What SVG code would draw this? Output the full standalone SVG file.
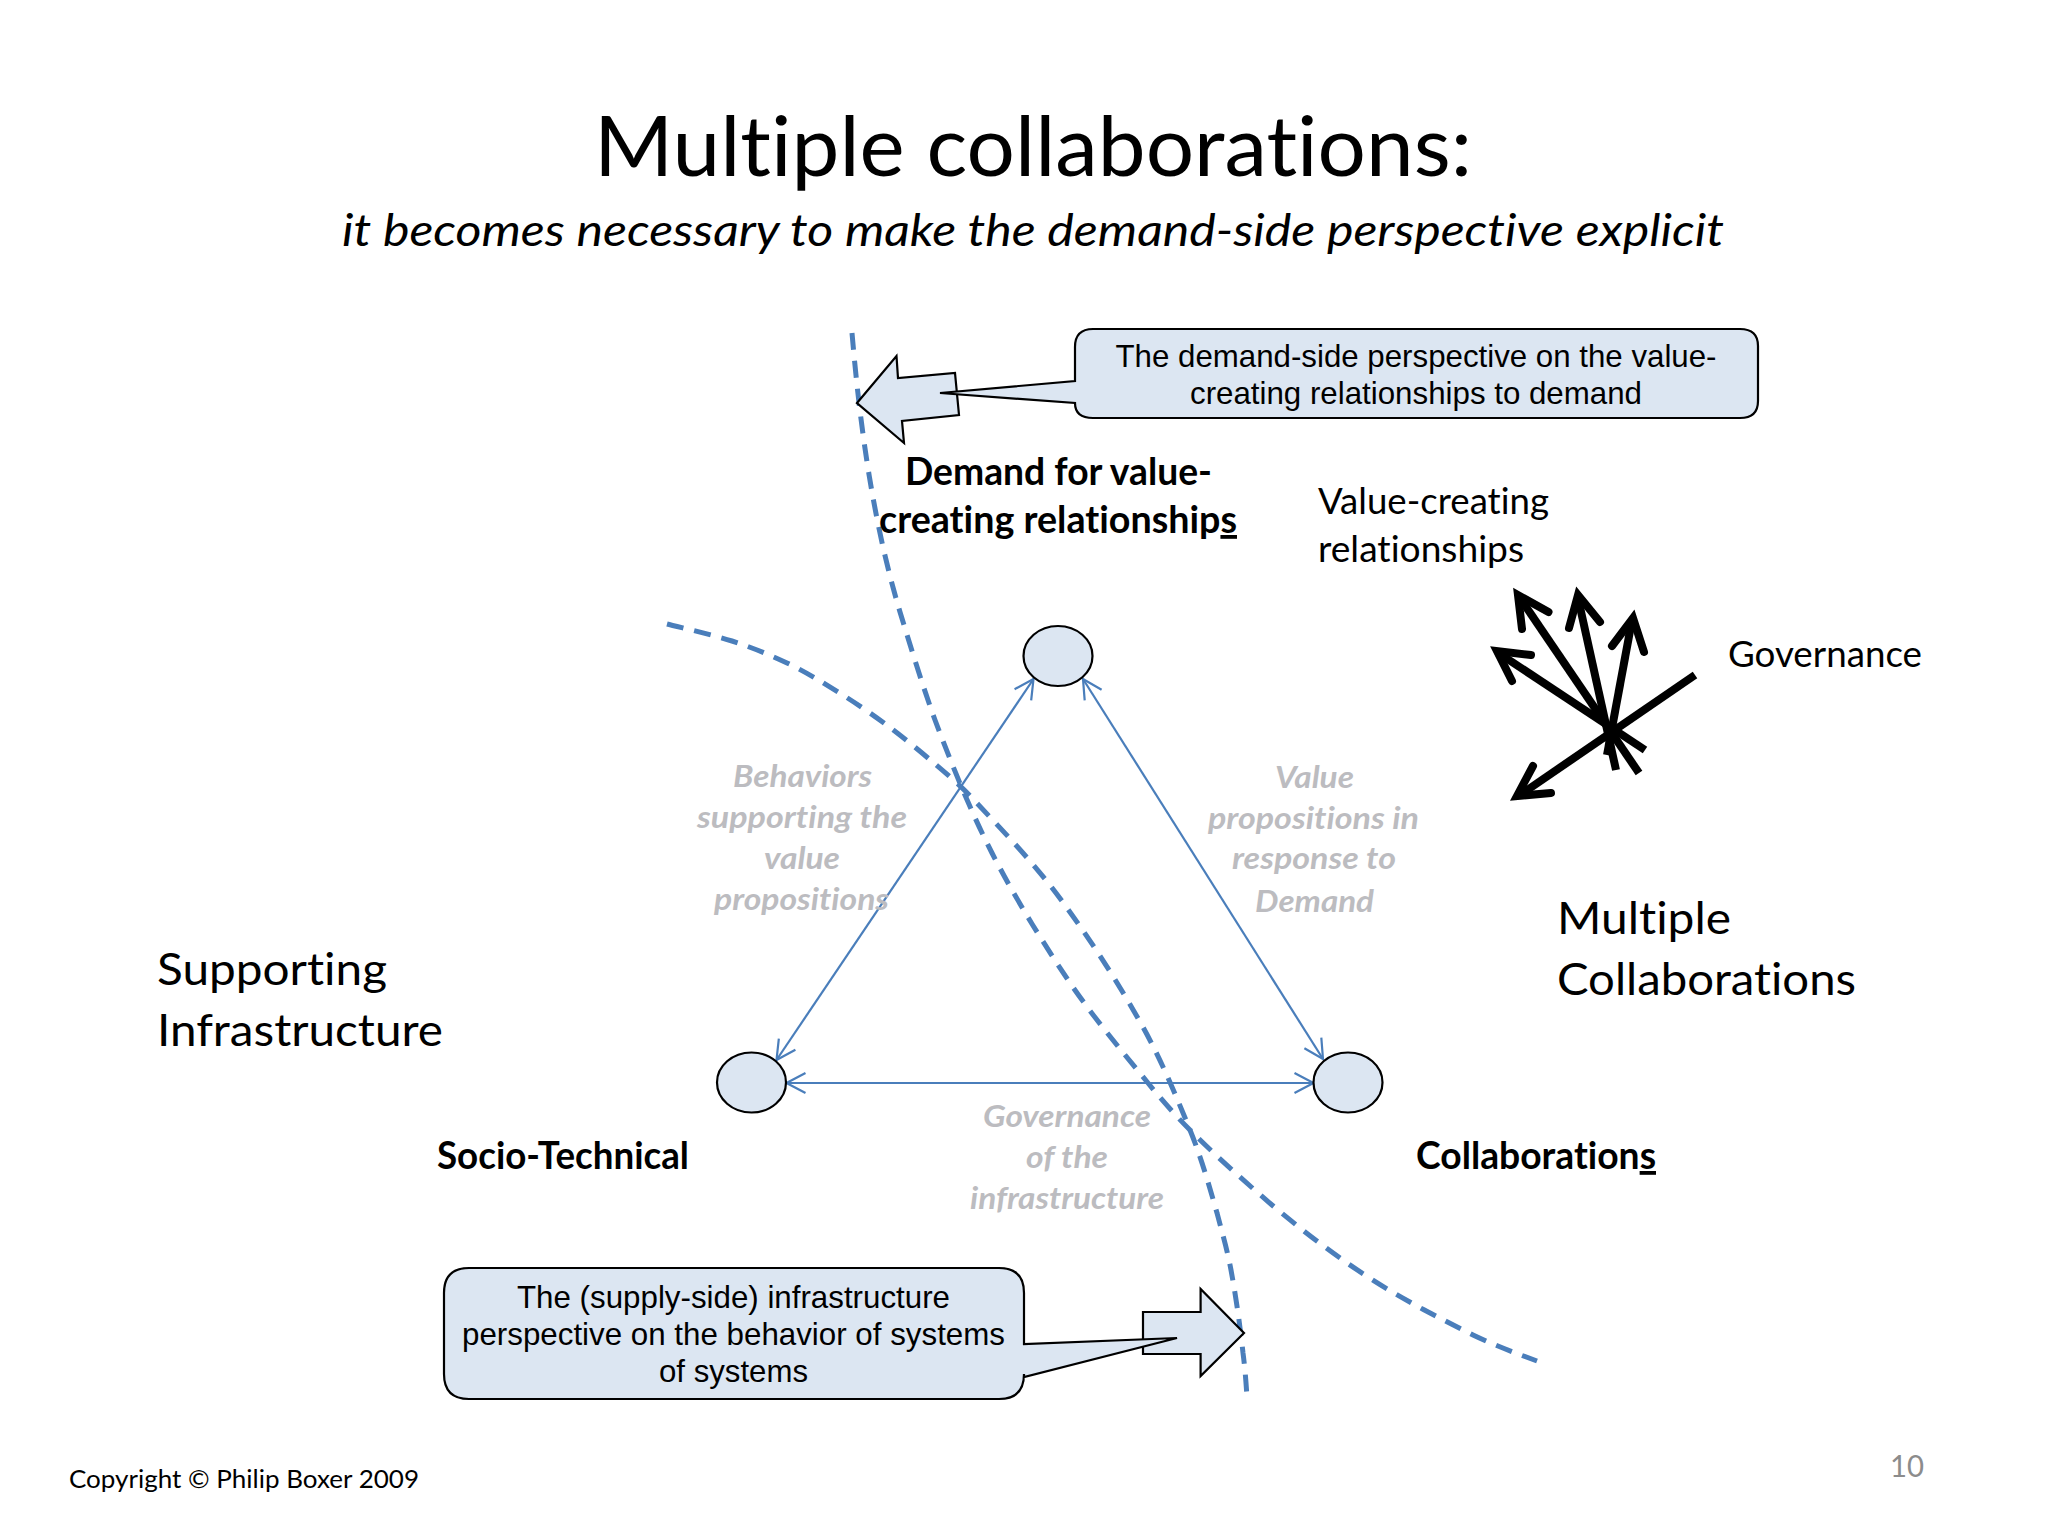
<svg xmlns="http://www.w3.org/2000/svg" width="2048" height="1536" viewBox="0 0 2048 1536">
<style>
text{font-family:"Lato","Liberation Sans",sans-serif;fill:#000;font-variant-ligatures:none}
.a{font-family:"Liberation Sans",Arial,sans-serif;font-size:30.5px;text-anchor:middle}
.l{font-size:36px}
.b{font-size:38px;font-weight:700}
.big{font-size:45px}
.g{font-size:30.5px;font-weight:700;font-style:italic;fill:#bcbcc0}
.shape{fill:#dce6f2;stroke:#000;stroke-width:2.2}
.dash{fill:none;stroke:#4a7ebb;stroke-width:5;stroke-dasharray:17 11}
.tri{fill:none;stroke:#4a7ebb;stroke-width:2.2;marker-start:url(#o);marker-end:url(#o)}
.gov{fill:none;stroke:#000;stroke-width:8}
.head{fill:none;stroke:#000;stroke-width:8;stroke-linecap:round;stroke-linejoin:miter}
</style>
<defs>
<marker id="o" viewBox="-22 -12 24 24" refX="0" refY="0" markerWidth="24" markerHeight="24" markerUnits="userSpaceOnUse" orient="auto-start-reverse">
<path d="M-19,-10 L0,0 L-19,10" fill="none" stroke="#4a7ebb" stroke-width="2.2"/>
</marker>
</defs>
<rect width="2048" height="1536" fill="#fff"/>
<g id="title">
<text x="594" y="176" font-size="83" textLength="878" lengthAdjust="spacingAndGlyphs">Multiple collaborations:</text>
<text x="342" y="246" font-size="44" font-style="italic" textLength="1382" lengthAdjust="spacingAndGlyphs">it becomes necessary to make the demand-side perspective explicit</text>
</g>
<g id="connectors">
<path class="dash" d="M852,333C860,426 873,522 900,612C911,648 922,684 935,720C952,765 970,810 992,853C1015,898 1042,941 1070,983C1094,1018 1121,1050 1148,1083C1161,1099 1175,1115 1190,1130C1216,1156 1244,1181 1272,1205C1303,1231 1334,1255 1368,1277C1402,1299 1437,1317 1473,1335C1494,1345 1515,1353 1537,1361"/>
<path class="dash" d="M667,624C678,627 712,634.5 732,641C752,647.5 769,654.5 787,663C805,671.5 821,681.5 838,692C855,702.5 872,714 888,726C904,738 920.5,751.5 935,764C948,775 962,787 974,800C1002,830 1031,860 1056,893C1086,933 1114,976 1139,1020C1159,1055 1175,1093 1190,1130C1201,1157 1209,1185 1217,1213C1222,1232 1227.5,1251 1231,1270C1236,1297 1240,1325 1243,1353C1245,1368 1246,1382 1247,1397"/>
<line class="tri" x1="1033.5" y1="679" x2="776.5" y2="1060"/>
<line class="tri" x1="1083" y1="679" x2="1323" y2="1059"/>
<line class="tri" x1="786.5" y1="1083" x2="1313.5" y2="1083"/>
</g>
<g id="node-demand">
<ellipse class="shape" cx="1058" cy="656" rx="34.5" ry="30"/>
<text class="b" x="905" y="485" textLength="307" lengthAdjust="spacingAndGlyphs">Demand for value-</text>
<text class="b" x="879" y="533" textLength="358" lengthAdjust="spacingAndGlyphs">creating relationship<tspan text-decoration="underline">s</tspan></text>
</g>
<g id="node-sociotechnical">
<ellipse class="shape" cx="751.5" cy="1082.5" rx="34.5" ry="30"/>
<text class="b" x="437" y="1169" textLength="252" lengthAdjust="spacingAndGlyphs">Socio-Technical</text>
</g>
<g id="node-collaborations">
<ellipse class="shape" cx="1348" cy="1082.5" rx="34.5" ry="30"/>
<text class="b" x="1416" y="1169" textLength="240" lengthAdjust="spacingAndGlyphs">Collaboration<tspan text-decoration="underline">s</tspan></text>
</g>
<g id="edge-labels">
<text class="g" x="733" y="787" textLength="139" lengthAdjust="spacingAndGlyphs">Behaviors</text>
<text class="g" x="697" y="828" textLength="210" lengthAdjust="spacingAndGlyphs">supporting the</text>
<text class="g" x="764" y="869" textLength="76" lengthAdjust="spacingAndGlyphs">value</text>
<text class="g" x="714" y="910" textLength="175" lengthAdjust="spacingAndGlyphs">propositions</text>
<text class="g" x="1275" y="788" textLength="79" lengthAdjust="spacingAndGlyphs">Value</text>
<text class="g" x="1208" y="829" textLength="211" lengthAdjust="spacingAndGlyphs">propositions in</text>
<text class="g" x="1232" y="869" textLength="164" lengthAdjust="spacingAndGlyphs">response to</text>
<text class="g" x="1255" y="912" textLength="119" lengthAdjust="spacingAndGlyphs">Demand</text>
<text class="g" x="983" y="1127" textLength="168" lengthAdjust="spacingAndGlyphs">Governance</text>
<text class="g" x="1026" y="1168" textLength="82" lengthAdjust="spacingAndGlyphs">of the</text>
<text class="g" x="970" y="1209" textLength="194" lengthAdjust="spacingAndGlyphs">infrastructure</text>
</g>
<g id="callout-demand">
<path class="shape" d="M857,403L896.5,356L898,378L955,373L959,415L902,421L904,443Z"/>
<path class="shape" d="M1093,329H1740Q1758,329 1758,346V401Q1758,418 1740,418H1093Q1075,418 1075,403L940,393L1075,381V347Q1075,329 1093,329Z"/>
<text class="a" x="1416" y="367" textLength="601" lengthAdjust="spacingAndGlyphs">The demand-side perspective on the value-</text>
<text class="a" x="1416" y="404" textLength="452" lengthAdjust="spacingAndGlyphs">creating relationships to demand</text>
</g>
<g id="callout-infrastructure">
<path class="shape" d="M1143,1312H1200.6V1289L1244,1333L1200.6,1376V1354H1143Z"/>
<path class="shape" d="M469,1268H999Q1024,1268 1024,1293V1344L1177,1338L1024,1377V1374Q1024,1399 999,1399H469Q444,1399 444,1374V1293Q444,1268 469,1268Z"/>
<text class="a" x="733.5" y="1308" textLength="433" lengthAdjust="spacingAndGlyphs">The (supply-side) infrastructure</text>
<text class="a" x="733.5" y="1345" textLength="543" lengthAdjust="spacingAndGlyphs">perspective on the behavior of systems</text>
<text class="a" x="733.5" y="1382" textLength="149" lengthAdjust="spacingAndGlyphs">of systems</text>
</g>
<g id="arrows-governance">
<line class="gov" x1="1645" y1="750" x2="1500" y2="654"/>
<path class="head" d="M1531,655L1497,651L1512,681"/>
<line class="gov" x1="1639" y1="773" x2="1520" y2="598"/>
<path class="head" d="M1548.5,612L1518,595L1522,629"/>
<line class="gov" x1="1616" y1="770" x2="1578" y2="598"/>
<path class="head" d="M1600,622L1578,595L1569,628"/>
<line class="gov" x1="1607" y1="755" x2="1632" y2="620"/>
<path class="head" d="M1612,646L1633,618L1644,652"/>
<line class="gov" x1="1695" y1="675" x2="1520" y2="795"/>
<path class="head" d="M1533,766L1517,796L1551,793"/>
<text class="l" x="1728" y="667" textLength="194" lengthAdjust="spacingAndGlyphs">Governance</text>
</g>
<g id="labels">
<text class="l" x="1318" y="514" textLength="231" lengthAdjust="spacingAndGlyphs">Value-creating</text>
<text class="l" x="1318" y="562" textLength="206" lengthAdjust="spacingAndGlyphs">relationships</text>
<text class="big" x="157" y="985" textLength="230" lengthAdjust="spacingAndGlyphs">Supporting</text>
<text class="big" x="157" y="1046" textLength="286" lengthAdjust="spacingAndGlyphs">Infrastructure</text>
<text class="big" x="1557" y="934" textLength="174" lengthAdjust="spacingAndGlyphs">Multiple</text>
<text class="big" x="1557" y="995" textLength="299" lengthAdjust="spacingAndGlyphs">Collaborations</text>
<text x="69" y="1488" font-size="25" textLength="350" lengthAdjust="spacingAndGlyphs">Copyright © Philip Boxer 2009</text>
<text x="1890" y="1477" font-size="30" style="fill:#8c8c8c" textLength="34" lengthAdjust="spacingAndGlyphs">10</text>
</g>
</svg>
